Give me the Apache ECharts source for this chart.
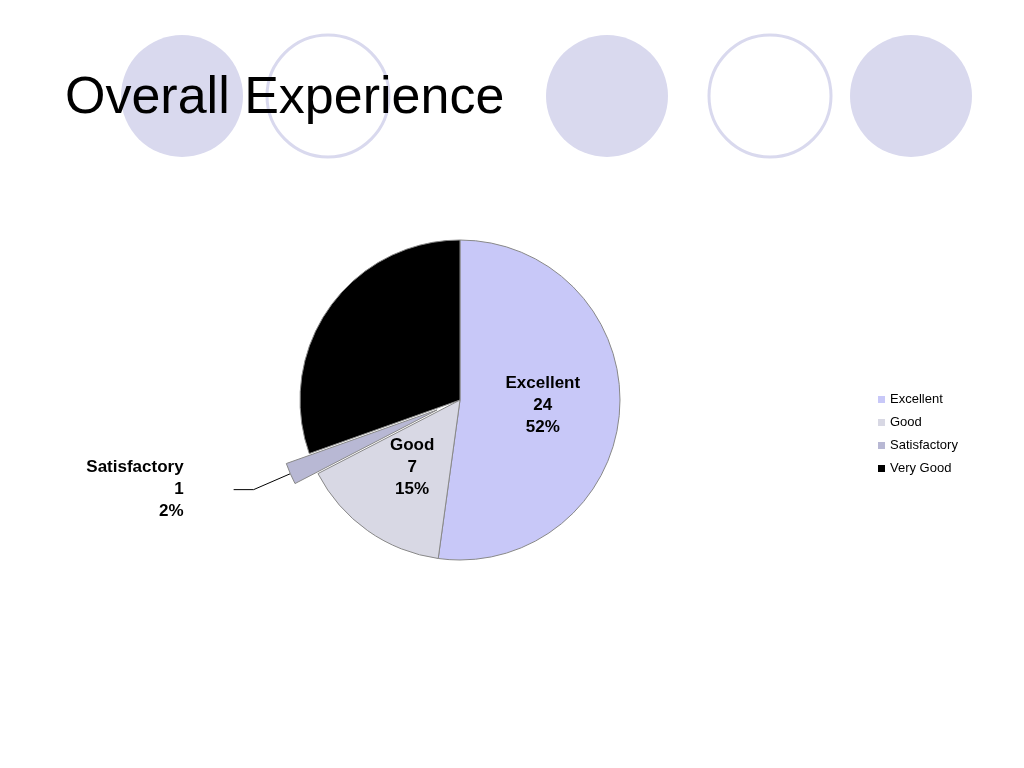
<!DOCTYPE html>
<html><head><meta charset="utf-8">
<script src="https://cdn.jsdelivr.net/npm/echarts@6/dist/echarts.min.js"></script>
<style>html,body{margin:0;background:#fff}#c{width:1024px;height:768px}</style>
</head><body><div id="c"></div>
<script>
const categories = ['Excellent','Good','Satisfactory','Very Good'];
const values = [24, 7, 1, 14];
const colors = ['#c8c8f8','#d8d8e4','#b8b8d4','#000000'];
const chart = echarts.init(document.getElementById('c'));
const circ = (x, filled) => ({type:'circle', shape:{cx:x, cy:96, r:61}, z:-1,
  style: filled ? {fill:'#d9d9ee'} : {fill:'#fff', stroke:'#d9d9ee', lineWidth:3}});
const fmt = p => p.name + '\n' + p.value + '\n' + Math.round(p.percent) + '%';
chart.setOption({
  animation:false,
  graphic:[circ(182,true),circ(328,false),circ(607,true),circ(770,false),circ(911,true)],
  title:{text:'Overall Experience', left:60, top:68,
    textStyle:{fontFamily:'Liberation Sans', fontSize:52, fontWeight:'normal', color:'#000'}},
  legend:{orient:'vertical', left:873, top:388, itemWidth:7, itemHeight:7, itemGap:10, icon:'rect',
    itemStyle:{borderWidth:0},
    textStyle:{fontFamily:'Liberation Sans', fontSize:13, color:'#000'}, data:categories},
  series:[{
    type:'pie', center:[460,400], radius:160, startAngle:90, clockwise:true,
    selectedMode:'single', selectedOffset:25,
    itemStyle:{borderColor:'#888', borderWidth:1},
    label:{position:'inside', formatter:fmt, fontFamily:'Liberation Sans',
      fontSize:17, fontWeight:'bold', color:'#000', lineHeight:22, align:'center'},
    data: categories.map((n,i)=>{
      const d = {name:n, value:values[i], itemStyle:{color:colors[i]}};
      if (n==='Satisfactory') { d.selected = true;
        d.label = {position:'outside', color:'#000', align:'center', distanceToLabelLine:50};
        d.labelLine = {show:true, length:40, length2:20, lineStyle:{color:'#000'}}; }
      if (n==='Very Good') d.label = {show:false};
      return d;
    })
  }]
});
</script></body></html>
